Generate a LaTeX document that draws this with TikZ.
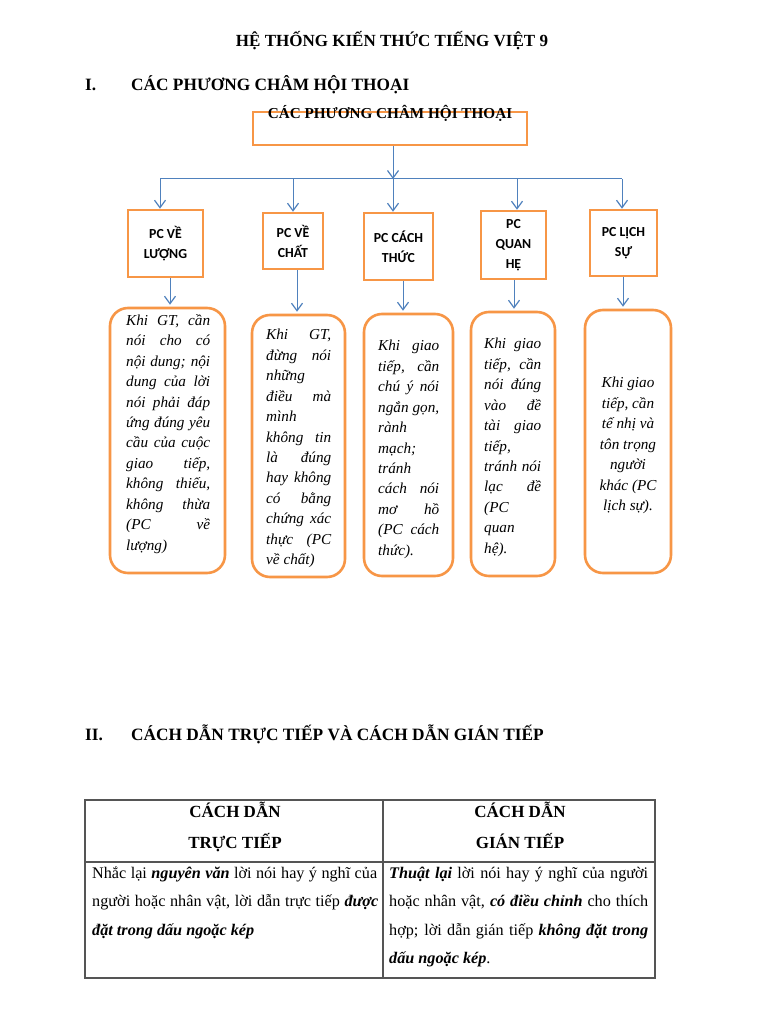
\documentclass[tikz,border=0pt]{standalone}
\usepackage{fontspec}
\setmainfont{Liberation Serif}
\newfontfamily\calfont{Carlito}
\usetikzlibrary{arrows.meta}
\definecolor{org}{HTML}{F79646}
\definecolor{blu}{HTML}{4F81BD}
\definecolor{tbl}{HTML}{555555}
\newcommand{\jl}[2]{\makebox[#1][s]{#2}}
\begin{document}
\begin{tikzpicture}[x=1pt,y=-1pt,
  hd/.style={font=\bfseries\fontsize{17.3}{20}\selectfont, inner sep=0, anchor=base west},
  pcbox/.style={draw=org, line width=2.6pt, inner sep=0, align=center,
    font=\calfont\bfseries\fontsize{13.8}{20}\selectfont},
  rbox/.style={draw=org, line width=2.6pt, rounded corners=18pt, inner sep=0},
  itxt/.style={inner sep=0, align=left, font=\itshape\fontsize{15.2}{20.45}\selectfont},
  arr/.style={draw=blu, line width=1pt, -{Straight Barb[length=7.5pt,width=11pt,line width=1.2pt]}},
  bline/.style={draw=blu, line width=1pt},
  thd/.style={inner sep=0, align=center, font=\bfseries\fontsize{17}{31}\selectfont},
  tbody/.style={inner sep=0, align=left, anchor=base west, font=\fontsize{16.2}{28.5}\selectfont}
]
\useasboundingbox (0,0) rectangle (768,1024);
\fill[white] (0,0) rectangle (768,1024);

% titles
\node[hd, anchor=base, font=\bfseries\fontsize{17}{20}\selectfont] (title) at (392,47) {HỆ THỐNG KIẾN THỨC TIẾNG VIỆT 9};
\node[hd] (h1n) at (85,91) {I.};
\node[hd] (h1) at (131,91) {CÁC PHƯƠNG CHÂM HỘI THOẠI};

% top box
\node[draw=org, line width=2.6pt, minimum width=274, minimum height=33, inner sep=0] (top) at (390,128.5) {};
\node[inner sep=0, anchor=base, font=\bfseries\fontsize{15.2}{18}\selectfont] (toptxt) at (390,119) {CÁC PHƯƠNG CHÂM HỘI THOẠI};

% PC boxes
\node[pcbox, minimum width=75, minimum height=67] (p1) at (165.5,243.5) {PC VỀ\\LƯỢNG};
\node[pcbox, minimum width=60, minimum height=56] (p2) at (293,241) {PC VỀ\\CHẤT};
\node[pcbox, minimum width=69, minimum height=67] (p3) at (398.5,246.5) {PC CÁCH\\THỨC};
\node[pcbox, minimum width=65, minimum height=68] (p4) at (513.5,245) {PC\\QUAN\\HỆ};
\node[pcbox, minimum width=67, minimum height=66] (p5) at (623.5,243) {PC LỊCH\\SỰ};

% connectors top
\coordinate (hl) at (160,179);
\coordinate (hr) at (622,179);
\draw[arr] (393,0 |- top.south) -- (393,0 |- hl);
\draw[bline] (hl) -- (hr);
\draw[arr] (160,179) -- (160,0 |- p1.north);
\draw[arr] (293,179) -- (293,0 |- p2.north);
\draw[arr] (393,179) -- (393,0 |- p3.north);
\draw[arr] (517,179) -- (517,0 |- p4.north);
\draw[arr] (hr) -- (622,0 |- p5.north);

% rounded boxes
\node[rbox, minimum width=115, minimum height=265] (r1) at (167.5,440.5) {};
\node[rbox, minimum width=93, minimum height=262] (r2) at (298.5,446) {};
\node[rbox, minimum width=89, minimum height=262] (r3) at (408.5,445) {};
\node[rbox, minimum width=84, minimum height=264] (r4) at (513,444) {};
\node[rbox, minimum width=86, minimum height=263] (r5) at (628,441.5) {};

\draw[arr, shorten >=2pt] (170,0 |- p1.south) -- (170,0 |- r1.north);
\draw[arr, shorten >=2pt] (297,0 |- p2.south) -- (297,0 |- r2.north);
\draw[arr, shorten >=2pt] (403,0 |- p3.south) -- (403,0 |- r3.north);
\draw[arr, shorten >=2pt] (514,0 |- p4.south) -- (514,0 |- r4.north);
\draw[arr, shorten >=2pt] (623,0 |- p5.south) -- (623,0 |- r5.north);

% texts in rounded boxes
\node[itxt, anchor=north west] (t1) at (126,314) {%
\jl{84pt}{Khi GT, cần}\\ \jl{84pt}{nói cho có}\\ \jl{84pt}{nội dung; nội}\\
\jl{84pt}{dung của lời}\\ \jl{84pt}{nói phải đáp}\\ \jl{84pt}{ứng đúng yêu}\\
\jl{84pt}{cầu của cuộc}\\ \jl{84pt}{giao tiếp,}\\ \jl{84pt}{không thiếu,}\\
\jl{84pt}{không thừa}\\ \jl{84pt}{(PC về}\\ lượng)};
\node[itxt, anchor=north west] (t2) at (266,329) {%
\jl{65pt}{Khi GT,}\\ \jl{65pt}{đừng nói}\\ những\\ \jl{65pt}{điều mà}\\ mình\\
\jl{65pt}{không tin}\\ \jl{65pt}{là đúng}\\ \jl{65pt}{hay không}\\ \jl{65pt}{có bằng}\\
\jl{65pt}{chứng xác}\\ \jl{65pt}{thực (PC}\\ về chất)};
\node[itxt, anchor=north west] (t3) at (378,340) {%
\jl{61pt}{Khi giao}\\ \jl{61pt}{tiếp, cần}\\ \jl{61pt}{chú ý nói}\\ \jl{61pt}{ngắn gọn,}\\
rành\\ mạch;\\ tránh\\ \jl{61pt}{cách nói}\\ \jl{61pt}{mơ hồ}\\ \jl{61pt}{(PC cách}\\ thức).};
\node[itxt, anchor=north west] (t4) at (484,338) {%
\jl{57pt}{Khi giao}\\ \jl{57pt}{tiếp, cần}\\ \jl{57pt}{nói đúng}\\ \jl{57pt}{vào đề}\\
\jl{57pt}{tài giao}\\ tiếp,\\ \jl{57pt}{tránh nói}\\ \jl{57pt}{lạc đề}\\ (PC\\ quan\\ hệ).};
\node[itxt, align=center, anchor=north] (t5) at (628,377) {%
Khi giao\\ tiếp, cần\\ tế nhị và\\ tôn trọng\\ người\\ khác (PC\\ lịch sự).};

% section II
\node[hd] (h2n) at (85,740) {II.};
\node[hd] (h2) at (131,740) {CÁCH DẪN TRỰC TIẾP VÀ CÁCH DẪN GIÁN TIẾP};

% table
\coordinate (tl) at (85,800);
\coordinate (br) at (655,978);
\draw[tbl, line width=1.4pt] (tl) rectangle (br);
\draw[tbl, line width=1.4pt] (85,862) -- (655,862);
\draw[tbl, line width=1.4pt] (383,800) -- (383,978);
\node[thd, anchor=base] (c1a) at (235,817) {CÁCH DẪN};
\node[thd, anchor=base] (c1b) at (235,848) {TRỰC TIẾP};
\node[thd, anchor=base] (c2a) at (520,817) {CÁCH DẪN};
\node[thd, anchor=base] (c2b) at (520,848) {GIÁN TIẾP};

\node[tbody] (l1) at (92,878) {\jl{285pt}{Nhắc lại \textbf{\textit{nguyên văn}} lời nói hay ý nghĩ của}};
\node[tbody] (l2) at (92,906.5) {\jl{286pt}{người hoặc nhân vật, lời dẫn trực tiếp \textbf{\textit{được}}}};
\node[tbody] (l3) at (92,935) {\textbf{\textit{đặt trong dấu ngoặc kép}}};

\node[tbody] (m1) at (389,878) {\jl{259pt}{\textbf{\textit{Thuật lại}} lời nói hay ý nghĩ của người}};
\node[tbody] (m2) at (389,906.5) {\jl{259pt}{hoặc nhân vật, \textbf{\textit{có điều chỉnh}} cho thích}};
\node[tbody] (m3) at (389,935) {\jl{259pt}{hợp; lời dẫn gián tiếp \textbf{\textit{không đặt trong}}}};
\node[tbody] (m4) at (389,963.5) {\textbf{\textit{dấu ngoặc kép}}.};
\end{tikzpicture}
\end{document}
